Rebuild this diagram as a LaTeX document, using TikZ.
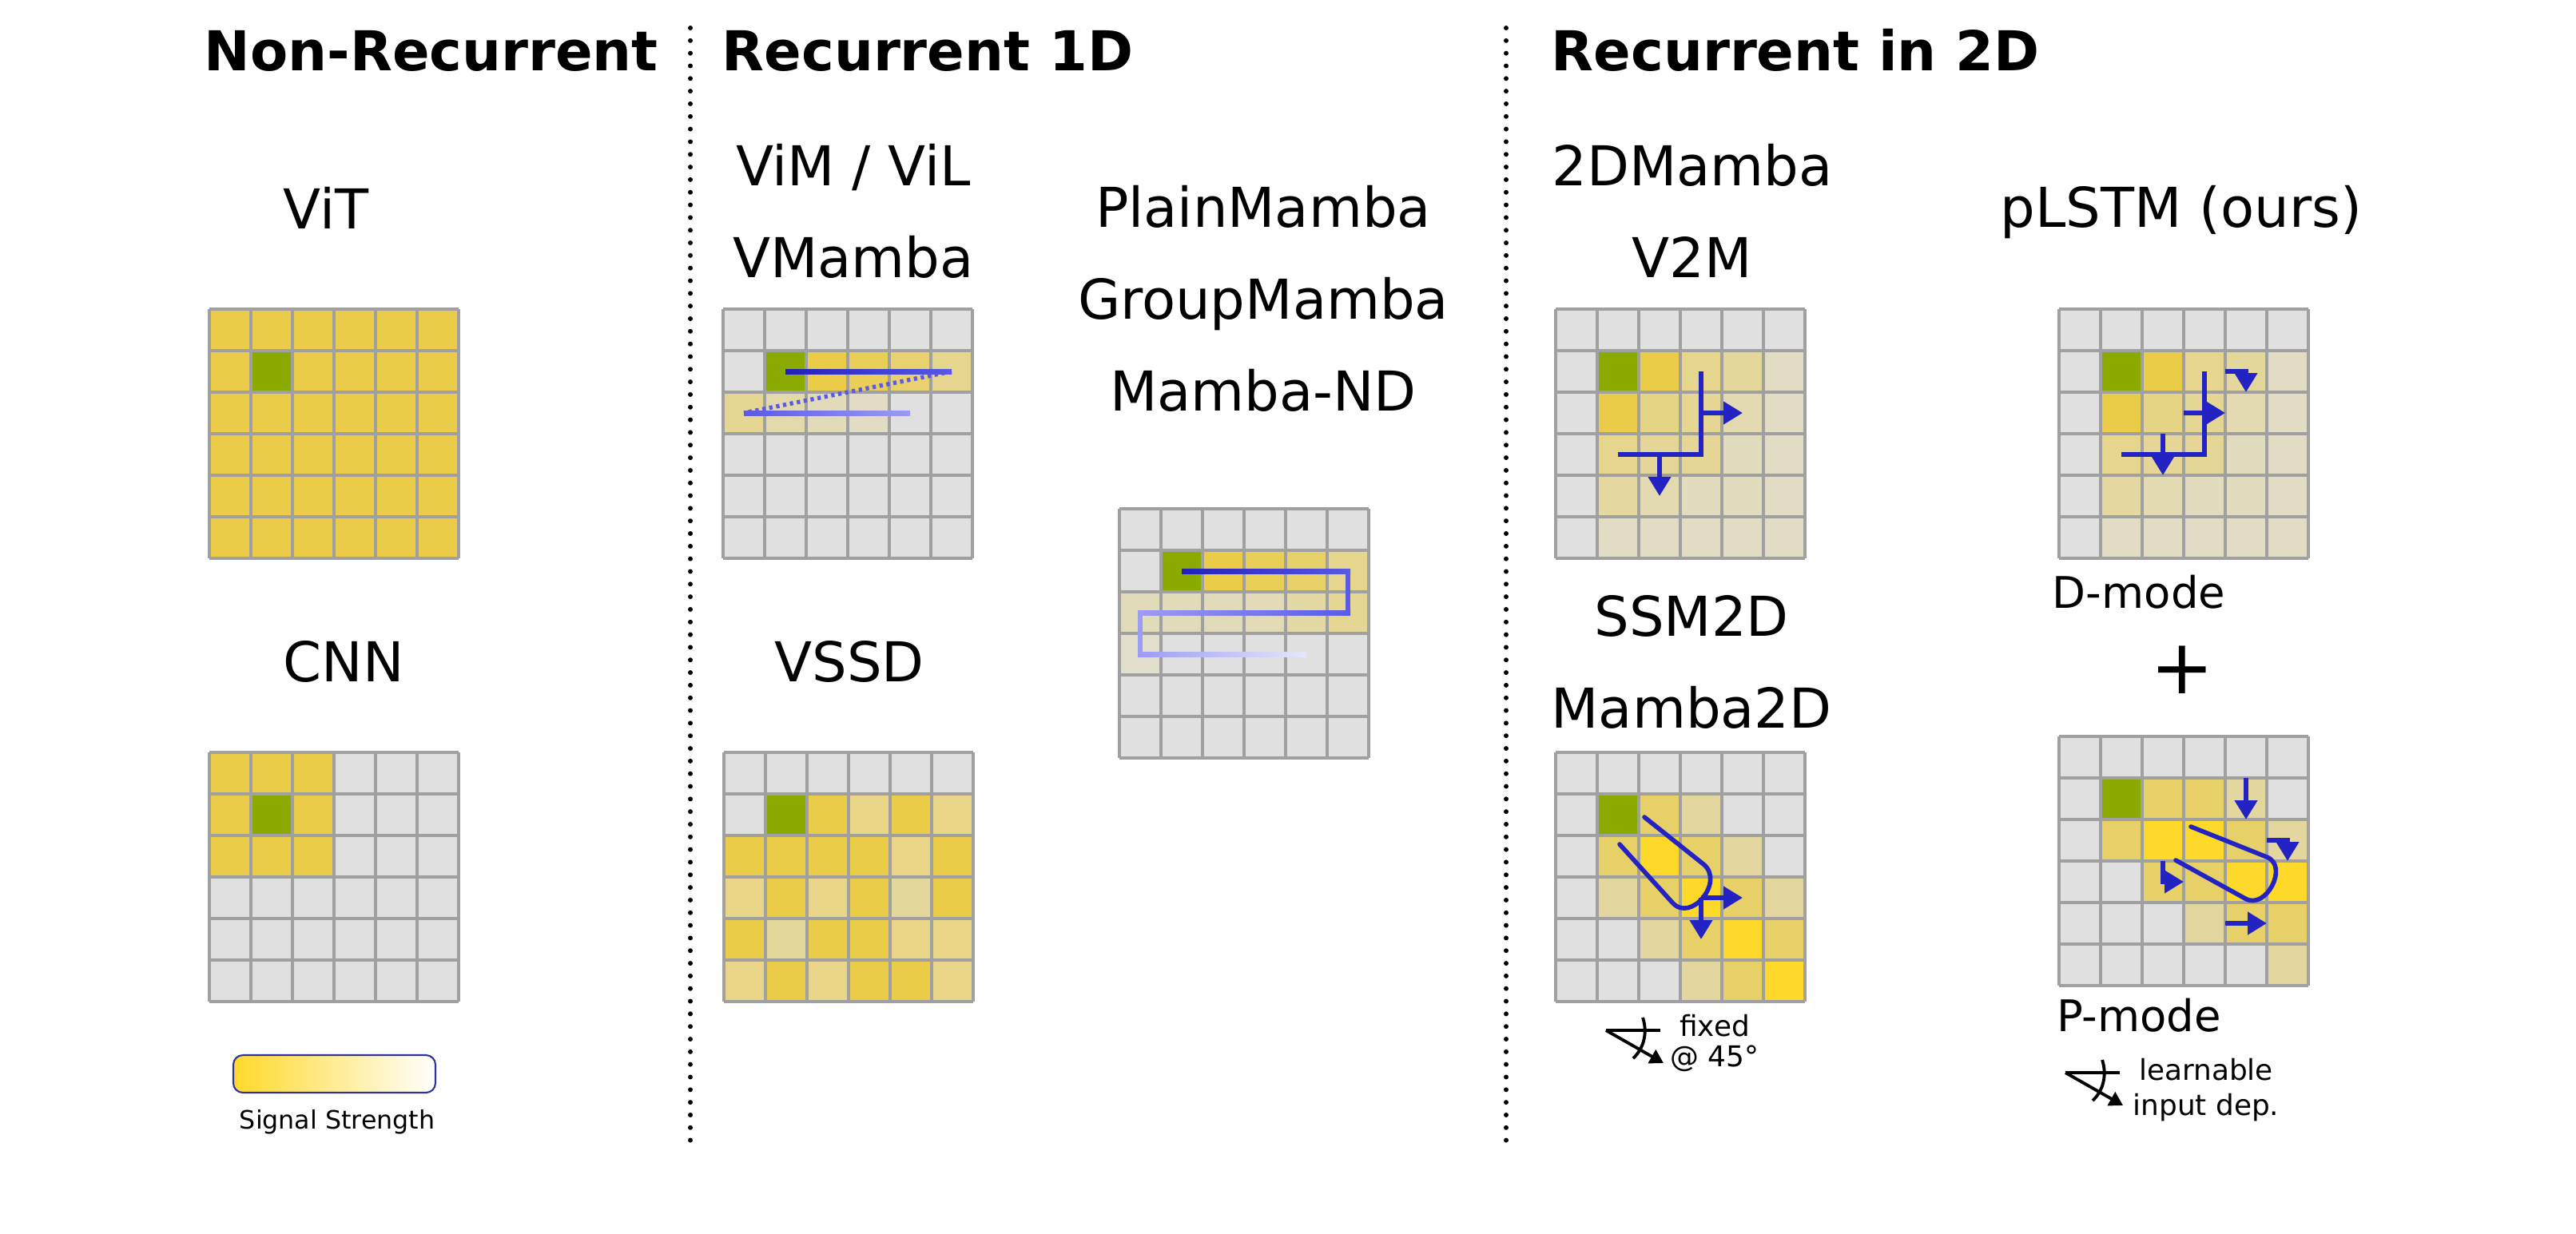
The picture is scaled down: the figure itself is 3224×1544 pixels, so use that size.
\documentclass[tikz,border=0pt]{standalone}
\usepackage{fontspec}
\setmainfont{DejaVu Sans}
\usetikzlibrary{arrows.meta}
\definecolor{gr}{HTML}{E0E0E0}
\definecolor{gn}{HTML}{8AAA00}
\definecolor{ye}{HTML}{EACC48}
\definecolor{br}{HTML}{FFD92A}
\definecolor{md}{HTML}{E8D068}
\definecolor{lt}{HTML}{E3D69E}
\definecolor{va}{HTML}{E9D688}
\definecolor{vb}{HTML}{E4D79C}
\definecolor{gline}{HTML}{A0A0A0}
\definecolor{arr}{HTML}{2323C3}
\definecolor{bA}{HTML}{2020B8}
\definecolor{bB}{HTML}{5A5AE6}
\definecolor{bC}{HTML}{9C9CF4}
\definecolor{bD}{HTML}{E6E6FA}
\definecolor{legb}{HTML}{3030A0}
\tikzset{
  gridline/.style={draw=gline, line width=1.1pt},
  flow/.style={draw=arr, line width=1.6pt, line join=miter},
  tipped/.style={-{Triangle[length=6.8pt,width=7.8pt]}},
  lab/.style={inner sep=0pt, anchor=base, font=\fontsize{19.56}{23}\selectfont},
  labw/.style={inner sep=0pt, anchor=base west, font=\fontsize{19.56}{23}\selectfont},
  ttl/.style={inner sep=0pt, anchor=base west, font=\fontsize{19.56}{23}\selectfont\bfseries},
  modelab/.style={inner sep=0pt, anchor=base, font=\fontsize{15.5}{18}\selectfont},
  smalltxt/.style={inner sep=0pt, anchor=base, font=\fontsize{9}{11}\selectfont},
  symtxt/.style={inner sep=0pt, anchor=base, font=\fontsize{10.2}{12}\selectfont},
  sepline/.style={line width=1.7pt, dash pattern=on 0pt off 4.5pt, line cap=round},
  symline/.style={line width=1.1pt},
}
\newcommand\pgrid[3]{%
  \foreach \rowlist [count=\r from 0] in {#3} {
    \foreach \cc [count=\k from 0] in \rowlist {
      \fill[\cc] ({#1+52*\k},{#2+52*\r}) rectangle ++(52,52);
    }
  }
  \foreach \i in {0,...,6} {
    \draw[gridline] ({#1+52*\i},#2) -- ({#1+52*\i},{#2+312});
    \draw[gridline] (#1,{#2+52*\i}) -- ({#1+312},{#2+52*\i});
  }
}
\newcommand\anglesym[2]{%
  \begin{scope}[shift={(#1,#2)}]
    \draw[symline] (0,0) -- (68,0);
    \draw[symline, -{Triangle[length=4.8pt,width=5.4pt]}] (0,0) -- (72,41);
    \draw[symline] (46,-16) .. controls (52,2) and (48,22) .. (34,35);
  \end{scope}}
\begin{document}
\begin{tikzpicture}[x=0.01cm,y=-0.01cm]
\useasboundingbox (0,0) rectangle (3224,1544);
\fill[white] (0,0) rectangle (3224,1544);

% separators
\draw[sepline] (864,35) -- (864,1438);
\draw[sepline] (1885,35) -- (1885,1438);

% titles
\node[ttl] (t1) at (255,88) {Non-Recurrent};
\node[ttl] (t2) at (903,88) {Recurrent 1D};
\node[ttl] (t3) at (1941,88) {Recurrent in 2D};

% labels
\node[labw] (lvit) at (354,286) {ViT};
\node[labw] (lcnn) at (354,853) {CNN};
\node[lab] (lvim) at (1068,232) {ViM / ViL};
\node[lab] (lvm) at (1068,347) {VMamba};
\node[lab] (lvssd) at (1063,853) {VSSD};
\node[lab] (lpm) at (1581,284) {PlainMamba};
\node[lab] (lgm) at (1581,399) {GroupMamba};
\node[lab] (lmnd) at (1581,514) {Mamba-ND};
\node[lab] (l2dm) at (2118,232) {2DMamba};
\node[lab] (lv2m) at (2118,347) {V2M};
\node[lab] (lssm) at (2117,796) {SSM2D};
\node[lab] (lm2d) at (2117,911) {Mamba2D};
\node[lab] (lpl) at (2730,284) {pLSTM (ours)};
\node[modelab] (ldm) at (2677,761) {D-mode};
\node[inner sep=0pt, font=\fontsize{27}{30}\selectfont] (plus) at (2731,839) {+};
\node[modelab] (lpmode) at (2677,1291) {P-mode};

% ViT
\pgrid{262}{387}{{ye,ye,ye,ye,ye,ye},{ye,gn,ye,ye,ye,ye},{ye,ye,ye,ye,ye,ye},{ye,ye,ye,ye,ye,ye},{ye,ye,ye,ye,ye,ye},{ye,ye,ye,ye,ye,ye}}
% CNN
\pgrid{262}{942}{{ye,ye,ye,gr,gr,gr},{ye,gn,ye,gr,gr,gr},{ye,ye,ye,gr,gr,gr},{gr,gr,gr,gr,gr,gr},{gr,gr,gr,gr,gr,gr},{gr,gr,gr,gr,gr,gr}}
% ViM
\pgrid{905}{387}{{gr,gr,gr,gr,gr,gr},{gr,gn,ye,ye!90!gr,ye!75!gr,ye!55!gr},{ye!50!gr,ye!35!gr,ye!25!gr,ye!18!gr,gr,gr},{gr,gr,gr,gr,gr,gr},{gr,gr,gr,gr,gr,gr},{gr,gr,gr,gr,gr,gr}}
\draw[draw=bB, line width=1.5pt, dash pattern=on 1.2pt off 1.3pt] (1191,465) -- (931,517);
\shade[left color=bA, right color=bB] (983,462) rectangle (1191,468);
\shade[left color=bB, right color=bC] (931,514) rectangle (1139,520);
% VSSD
\pgrid{906}{942}{{gr,gr,gr,gr,gr,gr},{gr,gn,ye,va,ye,va},{ye,ye,ye,ye,va,ye},{va,ye,va,ye,vb,ye},{ye,vb,ye,ye,va,va},{va,ye,va,ye,ye,va}}
% PlainMamba
\pgrid{1401}{637}{{gr,gr,gr,gr,gr,gr},{gr,gn,ye,ye!90!gr,ye!78!gr,ye!55!gr},{ye!25!gr,ye!25!gr,ye!25!gr,ye!27!gr,ye!40!gr,ye!50!gr},{ye!12!gr,gr,gr,gr,gr,gr},{gr,gr,gr,gr,gr,gr},{gr,gr,gr,gr,gr,gr}}
\shade[left color=bA, right color=bB] (1479,712) rectangle (1690,718);
\fill[bB] (1684,712) rectangle (1690,770);
\shade[left color=bC, right color=bB] (1424,764) rectangle (1690,770);
\fill[bC] (1424,764) rectangle (1430,822);
\shade[left color=bC, right color=bD] (1424,816) rectangle (1635,822);
% V2M
\pgrid{1947}{387}{{gr,gr,gr,gr,gr,gr},{gr,gn,ye,ye!55!gr,ye!45!gr,ye!18!gr},{gr,ye,ye!60!gr,ye!50!gr,ye!30!gr,ye!18!gr},{gr,ye!55!gr,ye!48!gr,ye!48!gr,ye!22!gr,ye!18!gr},{gr,ye!42!gr,ye!30!gr,ye!22!gr,ye!22!gr,ye!18!gr},{gr,ye!18!gr,ye!18!gr,ye!18!gr,ye!18!gr,ye!18!gr}}
\draw[flow] (2129,465) -- (2129,569) -- (2025,569);
\draw[flow, tipped] (2129,517) -- (2181,517);
\draw[flow, tipped] (2077,569) -- (2077,621);
% pLSTM D-mode
\pgrid{2577}{387}{{gr,gr,gr,gr,gr,gr},{gr,gn,ye,ye!55!gr,ye!45!gr,ye!18!gr},{gr,ye,ye!60!gr,ye!50!gr,ye!30!gr,ye!18!gr},{gr,ye!55!gr,ye!48!gr,ye!48!gr,ye!22!gr,ye!18!gr},{gr,ye!42!gr,ye!30!gr,ye!22!gr,ye!22!gr,ye!18!gr},{gr,ye!18!gr,ye!18!gr,ye!18!gr,ye!18!gr,ye!18!gr}}
\draw[flow] (2759,465) -- (2759,569) -- (2655,569);
\draw[flow, tipped] (2733,517) -- (2785,517);
\draw[flow, tipped] (2707,543) -- (2707,595);
\draw[flow, tipped] (2785,465) -- (2811,465) -- (2811,491);
% SSM2D
\pgrid{1947}{942}{{gr,gr,gr,gr,gr,gr},{gr,gn,md,lt,gr,gr},{gr,md,br,md,lt,gr},{gr,lt,md,br,md,lt},{gr,gr,lt,md,br,md},{gr,gr,gr,lt,md,br}}
\draw[flow, line cap=round] (2058,1023) -- (2132,1082) .. controls (2159,1104) and (2116,1156) .. (2093,1130) -- (2027,1057);
\draw[flow, tipped] (2129,1124) -- (2181,1124);
\draw[flow, tipped] (2129,1124) -- (2129,1176);
% P-mode
\pgrid{2577}{922}{{gr,gr,gr,gr,gr,gr},{gr,gn,md,md,lt,gr},{gr,md,br,br,md,lt},{gr,gr,md,md,br,br},{gr,gr,gr,lt,md,md},{gr,gr,gr,gr,gr,lt}}
\draw[flow, line cap=round] (2742,1035) -- (2837,1073) .. controls (2865,1084) and (2836,1140) .. (2810,1125) -- (2723,1077);
\draw[flow, tipped] (2811,974) -- (2811,1026);
\draw[flow, tipped] (2837,1052) -- (2863,1052) -- (2863,1078);
\draw[flow, tipped] (2707,1078) -- (2707,1104) -- (2733,1104);
\draw[flow, tipped] (2785,1156) -- (2837,1156);

% legend
\draw[draw=legb, line width=0.6pt, rounded corners=3.4pt, left color=br, right color=white] (292,1321) rectangle (545,1368);
\node[smalltxt] (sig) at (422,1413) {Signal Strength};

% angle symbols
\anglesym{2010}{1290}
\node[symtxt] (fx) at (2146,1297) {fixed};
\node[symtxt] (f45) at (2146,1335) {@ 45°};
\anglesym{2585}{1343}
\node[symtxt] (lrn) at (2761,1352) {learnable};
\node[symtxt] (inp) at (2761,1396) {input dep.};
\end{tikzpicture}
\end{document}
